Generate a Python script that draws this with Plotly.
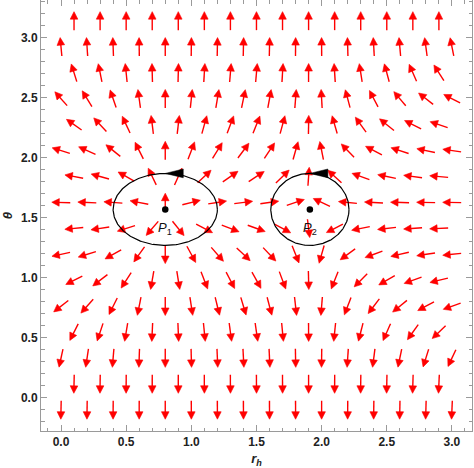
import numpy as np
import plotly.graph_objects as go

# ---------------- data ----------------
# columns of the vector grid (r_h) and the r-component of the field there
r_columns = [0.0, 0.1, 0.2, 0.3, 0.4, 0.5, 0.6, 0.7, 0.8, 0.9,
             1.0, 1.1, 1.2, 1.3, 1.4, 1.5, 1.6, 1.7, 1.8, 1.9,
             2.0, 2.1, 2.2, 2.3, 2.4, 2.5, 2.6, 2.7, 2.8, 2.9, 3.0]
phi_r = [-1.95, -1.60, -1.35, -1.05, -0.75, -0.52, -0.30, -0.14, 0.00, 0.13,
         0.23, 0.31, 0.37, 0.42, 0.45, 0.45, 0.40, 0.30, 0.17, 0.02,
         -0.12, -0.32, -0.58, -0.80, -1.15, -1.40, -1.85, -2.25, -2.80, -3.30, -4.20]

# rows of the vector grid (theta) and the theta-component of the field there
theta_rows = [-0.100, 0.116, 0.332, 0.548, 0.764, 0.980, 1.196, 1.412,
              1.628, 1.844, 2.060, 2.276, 2.492, 2.708, 2.924, 3.140]
phi_theta = [-99.8, -74.2, -8.90, -3.15, -1.51, -0.808, -0.423, -0.162,
             0.057, 0.291, 0.605, 1.12, 2.19, 5.15, 21.0, 1.0e5]

# zero points and the loops drawn around them
point_labels = ["<i>P</i><sub>1</sub>", "<i>P</i><sub>2</sub>"]
point_r = [0.80, 1.91]
point_theta = [1.57, 1.57]
loop_r_radius = [0.40, 0.30]
loop_theta_radius = [0.30, 0.30]

x_ticks = [0.0, 0.5, 1.0, 1.5, 2.0, 2.5, 3.0]
y_ticks = [0.0, 0.5, 1.0, 1.5, 2.0, 2.5, 3.0]

# ---------------- layout geometry ----------------
W, H = 474, 468
ML, MR, MT, MB = 41, 2, 0, 37
X_RANGE = [-0.1535, 3.154]
Y_RANGE = [-0.275, 3.314]
sx = (W - ML - MR) / (X_RANGE[1] - X_RANGE[0])   # px per r unit
sy = (H - MT - MB) / (Y_RANGE[1] - Y_RANGE[0])   # px per theta unit

ARROW_LEN = 18.5   # px
HEAD_LEN = 7.5
HEAD_HALF = 3.8
RED = "rgb(255,0,0)"

shaft_x, shaft_y, head_x, head_y = [], [], [], []
for i, (th, pth) in enumerate(zip(theta_rows, phi_theta)):
    for j, (r, pr) in enumerate(zip(r_columns, phi_r)):
        if j % 2 != i % 2:
            continue
        v = np.array([pr, pth], dtype=float)
        u = v / np.linalg.norm(v)              # direction in pixel space
        p = np.array([-u[1], u[0]])
        c = np.array([r * sx, th * sy])        # centre in px
        tail = c - u * ARROW_LEN / 2
        tip = c + u * ARROW_LEN / 2
        base = tip - u * HEAD_LEN
        s_end = tip - u * (HEAD_LEN * 0.6)
        shaft_x += [tail[0] / sx, s_end[0] / sx, None]
        shaft_y += [tail[1] / sy, s_end[1] / sy, None]
        b1 = base + p * HEAD_HALF
        b2 = base - p * HEAD_HALF
        head_x += [tip[0] / sx, b1[0] / sx, b2[0] / sx, tip[0] / sx, None]
        head_y += [tip[1] / sy, b1[1] / sy, b2[1] / sy, tip[1] / sy, None]

fig = go.Figure()
fig.add_trace(go.Scatter(x=shaft_x, y=shaft_y, mode="lines",
                         line=dict(color=RED, width=1.4),
                         hoverinfo="skip", showlegend=False))
fig.add_trace(go.Scatter(x=head_x, y=head_y, mode="lines", fill="toself",
                         fillcolor=RED, line=dict(color=RED, width=0.6),
                         hoverinfo="skip", showlegend=False))

# loops
t = np.linspace(0, 2 * np.pi, 241)
for cr, ct, rr, rt in zip(point_r, point_theta, loop_r_radius, loop_theta_radius):
    fig.add_trace(go.Scatter(x=cr + rr * np.cos(t), y=ct + rt * np.sin(t),
                             mode="lines", line=dict(color="black", width=1.2),
                             hoverinfo="skip", showlegend=False))
    # arrowhead at top of loop pointing left (counter-clockwise)
    tipx, tipy = cr * sx, (ct + rt) * sy
    hx = [tipx / sx, (tipx + 18) / sx, (tipx + 18) / sx, tipx / sx]
    hy = [tipy / sy, (tipy + 4.4) / sy, (tipy - 4.4) / sy, tipy / sy]
    fig.add_trace(go.Scatter(x=hx, y=hy, mode="lines", fill="toself",
                             fillcolor="black", line=dict(color="black", width=0.5),
                             hoverinfo="skip", showlegend=False))

fig.add_trace(go.Scatter(x=point_r, y=point_theta, mode="markers",
                         marker=dict(color="black", size=6.5),
                         hoverinfo="skip", showlegend=False))

for lab, cr, ct in zip(point_labels, point_r, point_theta):
    fig.add_annotation(x=cr, y=ct - 0.155, text=lab, showarrow=False,
                       xref="x", yref="y",
                       font=dict(family="Liberation Sans", size=13, color="#111"))

axis_common = dict(
    showline=True, linecolor="#9a9a9a", linewidth=1, mirror="allticks",
    ticks="inside", ticklen=6, tickwidth=1, tickcolor="#9a9a9a",
    showgrid=False, zeroline=False, tickformat=".1f",
    tickfont=dict(family="Liberation Sans", size=12, color="#222", weight="bold"),
    minor=dict(ticks="inside", ticklen=3.5, tickcolor="#9a9a9a", dtick=0.1, showgrid=False),
    automargin=False,
)
fig.update_xaxes(range=X_RANGE, tickvals=x_ticks, **axis_common,
                 title=dict(text="<b><i>r</i><sub><i>h</i></sub></b>",
                            font=dict(family="Liberation Sans", size=13, color="#222"),
                            standoff=6))
fig.update_yaxes(range=Y_RANGE, tickvals=y_ticks, **axis_common,
                 title=dict(text="<b><i>θ</i></b>",
                            font=dict(family="Liberation Sans", size=13, color="#222"),
                            standoff=6))

fig.update_layout(width=W, height=H, margin=dict(l=ML, r=MR, t=MT, b=MB),
                  plot_bgcolor="white", paper_bgcolor="white")

fig.write_html("out.html", config={"displayModeBar": False},
               post_script="document.body.style.margin='0px';document.body.style.overflow='hidden';")
